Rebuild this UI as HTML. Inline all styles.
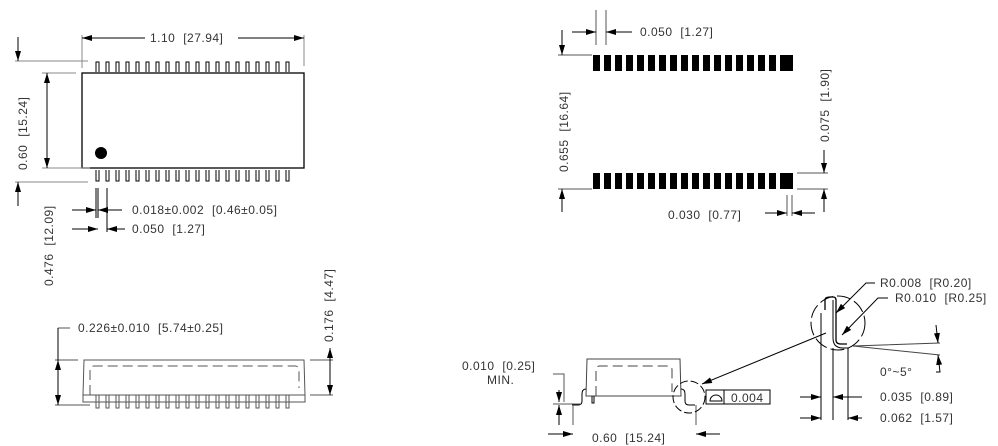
<!DOCTYPE html>
<html><head><meta charset="utf-8"><style>
html,body{margin:0;padding:0;background:#fff}
svg{display:block}
text{font-family:"Liberation Sans",sans-serif;font-size:12px;fill:#333;letter-spacing:0.5px;word-spacing:4px}
</style></head><body>
<svg width="998" height="446" viewBox="0 0 998 446" xmlns="http://www.w3.org/2000/svg">
<defs>
<marker id="a" viewBox="0 0 10 6" refX="10" refY="3" markerWidth="10" markerHeight="6" orient="auto-start-reverse" markerUnits="userSpaceOnUse"><path d="M0,0L10,3L0,6z" fill="#000"/></marker>
</defs>
<g stroke="#000" stroke-width="1" fill="none">
<rect x="82" y="73" width="222" height="95" stroke-width="1.3"/>
<path d="M96,72V62h3v10M106,72V62h3v10M116,72V62h3v10M126,72V62h3v10M136,72V62h3v10M146,72V62h3v10M156,72V62h3v10M166,72V62h3v10M176,72V62h3v10M186,72V62h3v10M196,72V62h3v10M206,72V62h3v10M216,72V62h3v10M226,72V62h3v10M236,72V62h3v10M246,72V62h3v10M256,72V62h3v10M266,72V62h3v10M276,72V62h3v10M286,72V62h3v10"/>
<path d="M96,170v11h3v-11M106,170v11h3v-11M116,170v11h3v-11M126,170v11h3v-11M136,170v11h3v-11M146,170v11h3v-11M156,170v11h3v-11M166,170v11h3v-11M176,170v11h3v-11M186,170v11h3v-11M196,170v11h3v-11M206,170v11h3v-11M216,170v11h3v-11M226,170v11h3v-11M236,170v11h3v-11M246,170v11h3v-11M256,170v11h3v-11M266,170v11h3v-11M276,170v11h3v-11M286,170v11h3v-11"/>
<path d="M82,35V68M304,35V66" stroke="#888"/>
<path d="M82,38H145M238,38H304" marker-start="url(#a)" marker-end="url(#a)"/>
<path d="M15,61H88M15,182H88M42,73H76M42,168H90" stroke="#888"/>
<path d="M18,37V61" marker-end="url(#a)"/><path d="M18,206V182" marker-end="url(#a)"/>
<path d="M47,73V168" marker-start="url(#a)" marker-end="url(#a)"/>
<path d="M96,188V218M98,188V218M107,188V232"/>
<path d="M72,210H96" marker-end="url(#a)"/><path d="M122,210H98" marker-end="url(#a)"/>
<path d="M72,229H98" marker-end="url(#a)"/><path d="M125,229H107" marker-end="url(#a)"/>
<path d="M596,10V45M606,10V45" stroke="#555"/>
<path d="M572,32H596" marker-end="url(#a)"/><path d="M632,32H606" marker-end="url(#a)"/>
<path d="M558,55H592M558,189H592M797,173H828M797,189H828M787,195V216M792,195V216" stroke="#555"/>
<path d="M562,30V55" marker-end="url(#a)"/><path d="M562,212V189" marker-end="url(#a)"/>
<path d="M824,150V173" marker-end="url(#a)"/><path d="M824,212V189" marker-end="url(#a)"/>
<path d="M765,213H787" marker-end="url(#a)"/><path d="M815,213H792" marker-end="url(#a)"/>
<path d="M84,360H304L305,395H83Z" stroke="#555"/>
<path d="M90,395V370q0,-4 4,-4H295q4,0 4,4V388" stroke-dasharray="10,5" stroke="#555"/>
<path d="M83,395V402H305V395M96,395v13h3v-13M106,395v13h3v-13M116,395v13h3v-13M126,395v13h3v-13M136,395v13h3v-13M146,395v13h3v-13M156,395v13h3v-13M166,395v13h3v-13M176,395v13h3v-13M186,395v13h3v-13M196,395v13h3v-13M206,395v13h3v-13M216,395v13h3v-13M226,395v13h3v-13M236,395v13h3v-13M246,395v13h3v-13M256,395v13h3v-13M266,395v13h3v-13M276,395v13h3v-13M286,395v13h3v-13" stroke="#555"/>
<path d="M55,360H78M55,405H90M58,328H70M310,360H333M310,395H333" stroke="#555"/>
<path d="M58,328V360"/>
<path d="M58,360V405" marker-start="url(#a)" marker-end="url(#a)"/>
<path d="M330,348V395" marker-start="url(#a)" marker-end="url(#a)"/>
<path d="M587,359H680L681,396H586Z" stroke="#444"/>
<path d="M596,396V370q0,-4 4,-4H668q4,0 4,4V392" stroke-dasharray="10,5" stroke="#444"/>
<path d="M586,389q-4,0 -4,5v7q0,4 -4,4h-6M681,389q4,0 4,5v7q0,4 4,4h6"/>
<path d="M592,396v7h2v-7"/>
<path d="M553,374H564V402M553,404H581M573,405V425M696,405V425" stroke="#555"/>
<path d="M559,390V402" marker-end="url(#a)"/><path d="M559,425V405" marker-end="url(#a)"/>
<path d="M548,434H573" marker-end="url(#a)"/><path d="M720,434H696" marker-end="url(#a)"/>
<circle cx="689" cy="397" r="16" stroke-dasharray="8,3"/>
<path d="M826,333L702,384" marker-end="url(#a)"/>
<rect x="706" y="390" width="64" height="14"/>
<path d="M724,390V404"/>
<path d="M710,401a6,6 0 0 1 12,0z"/>
<circle cx="838" cy="323" r="27" stroke-dasharray="14,4"/>
<path d="M825,310V300q0,-3 5,-3h3q3,0 3,3V340q0,4 5,4h6" stroke-width="1.3"/>
<path d="M833,300V338q0,10 10,10h6"/>
<path d="M821,313V420M833,348V420M848,348V420"/>
<path d="M853,346L940,343M853,346L940,355" stroke="#444"/>
<path d="M875,283H866L836,313" marker-end="url(#a)"/>
<path d="M888,298H878L842,335" marker-end="url(#a)"/>
<path d="M936,325L938,343" marker-end="url(#a)"/><path d="M936,372H940L938,355" marker-end="url(#a)"/>
<path d="M800,397H821" marker-end="url(#a)"/><path d="M862,397H833" marker-end="url(#a)"/>
<path d="M800,418H821" marker-end="url(#a)"/><path d="M862,418H848" marker-end="url(#a)"/>
</g>
<circle cx="101" cy="153" r="6" fill="#000"/>
<g fill="#000">
<rect x="593" y="55" width="7" height="16"/><rect x="604" y="55" width="7" height="16"/><rect x="615" y="55" width="7" height="16"/><rect x="626" y="55" width="7" height="16"/><rect x="637" y="55" width="7" height="16"/><rect x="648" y="55" width="7" height="16"/><rect x="659" y="55" width="7" height="16"/><rect x="670" y="55" width="7" height="16"/><rect x="681" y="55" width="7" height="16"/><rect x="692" y="55" width="7" height="16"/><rect x="703" y="55" width="7" height="16"/><rect x="714" y="55" width="7" height="16"/><rect x="725" y="55" width="7" height="16"/><rect x="736" y="55" width="7" height="16"/><rect x="747" y="55" width="7" height="16"/><rect x="758" y="55" width="7" height="16"/><rect x="769" y="55" width="7" height="16"/><rect x="780" y="55" width="7" height="16"/><rect x="787" y="55" width="6" height="16"/>
<rect x="593" y="173" width="7" height="16"/><rect x="604" y="173" width="7" height="16"/><rect x="615" y="173" width="7" height="16"/><rect x="626" y="173" width="7" height="16"/><rect x="637" y="173" width="7" height="16"/><rect x="648" y="173" width="7" height="16"/><rect x="659" y="173" width="7" height="16"/><rect x="670" y="173" width="7" height="16"/><rect x="681" y="173" width="7" height="16"/><rect x="692" y="173" width="7" height="16"/><rect x="703" y="173" width="7" height="16"/><rect x="714" y="173" width="7" height="16"/><rect x="725" y="173" width="7" height="16"/><rect x="736" y="173" width="7" height="16"/><rect x="747" y="173" width="7" height="16"/><rect x="758" y="173" width="7" height="16"/><rect x="769" y="173" width="7" height="16"/><rect x="780" y="173" width="7" height="16"/><rect x="787" y="173" width="6" height="16"/>
</g>
<text x="150" y="42">1.10 [27.94]</text>
<text transform="translate(27,170) rotate(-90)">0.60 [15.24]</text>
<text transform="translate(53,286) rotate(-90)">0.476 [12.09]</text>
<text x="132" y="214">0.018±0.002 [0.46±0.05]</text>
<text x="132" y="233">0.050 [1.27]</text>
<text x="640" y="36">0.050 [1.27]</text>
<text transform="translate(568,172) rotate(-90)">0.655 [16.64]</text>
<text transform="translate(829,142) rotate(-90)">0.075 [1.90]</text>
<text x="668" y="219">0.030 [0.77]</text>
<text x="78" y="332">0.226±0.010 [5.74±0.25]</text>
<text transform="translate(333,342) rotate(-90)">0.176 [4.47]</text>
<text x="462" y="370">0.010 [0.25]</text>
<text x="487" y="384">MIN.</text>
<text x="592" y="442">0.60 [15.24]</text>
<text x="731" y="402">0.004</text>
<text x="880" y="287">R0.008 [R0.20]</text>
<text x="895" y="302">R0.010 [R0.25]</text>
<text x="880" y="376">0°~5°</text>
<text x="880" y="401">0.035 [0.89]</text>
<text x="880" y="422">0.062 [1.57]</text>
</svg>
</body></html>
